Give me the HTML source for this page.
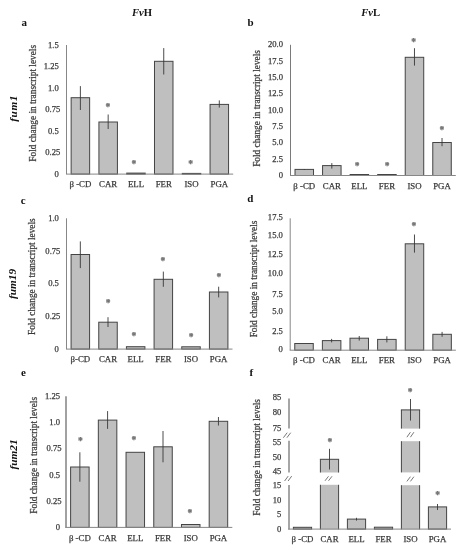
<!DOCTYPE html>
<html><head><meta charset="utf-8"><title>Figure</title>
<style>
html,body{margin:0;padding:0;background:#fff;}
body{width:465px;height:550px;overflow:hidden;}
svg{display:block;font-family:"Liberation Serif", "Times New Roman", serif;filter:blur(0.35px);}
text{stroke-width:0.25px;}
</style></head><body>
<svg width="465" height="550" viewBox="0 0 465 550" shape-rendering="auto">
<rect width="465" height="550" fill="#fff"/>
<text x="58.8" y="176.7" text-anchor="end" font-size="8.6" fill="#3a3a3a" stroke="#3a3a3a">0</text>
<text x="60.3" y="155.18" text-anchor="end" font-size="8.6" fill="#3a3a3a" stroke="#3a3a3a">0.25</text>
<text x="58.8" y="133.67" text-anchor="end" font-size="8.6" fill="#3a3a3a" stroke="#3a3a3a">0.5</text>
<text x="60.3" y="112.15" text-anchor="end" font-size="8.6" fill="#3a3a3a" stroke="#3a3a3a">0.75</text>
<text x="58.8" y="90.63" text-anchor="end" font-size="8.6" fill="#3a3a3a" stroke="#3a3a3a">1.0</text>
<text x="58.8" y="69.12" text-anchor="end" font-size="8.6" fill="#3a3a3a" stroke="#3a3a3a">1.25</text>
<text x="58.8" y="47.6" text-anchor="end" font-size="8.6" fill="#3a3a3a" stroke="#3a3a3a">1.5</text>
<rect x="71.14" y="97.7" width="18.5" height="76.4" fill="#bfbfbf" stroke="#444444" stroke-width="1"/>
<line x1="80.39" y1="86.1" x2="80.39" y2="110" stroke="#383838" stroke-width="0.9"/>
<rect x="98.92" y="122" width="18.5" height="52.1" fill="#bfbfbf" stroke="#444444" stroke-width="1"/>
<line x1="108.17" y1="114.5" x2="108.17" y2="129" stroke="#383838" stroke-width="0.9"/>
<text x="107.95" y="109.75" text-anchor="middle" font-size="9.5" font-weight="bold" fill="#6a6a6a" stroke="#6a6a6a" stroke-width="0.4">*</text>
<rect x="126.71" y="173.1" width="18.5" height="1" fill="#bfbfbf" stroke="#444444" stroke-width="1"/>
<text x="133.95" y="167.25" text-anchor="middle" font-size="9.5" font-weight="bold" fill="#6a6a6a" stroke="#6a6a6a" stroke-width="0.4">*</text>
<rect x="154.49" y="61.3" width="18.5" height="112.8" fill="#bfbfbf" stroke="#444444" stroke-width="1"/>
<line x1="163.74" y1="48.1" x2="163.74" y2="74.5" stroke="#383838" stroke-width="0.9"/>
<rect x="182.27" y="173.4" width="18.5" height="0.7" fill="#bfbfbf" stroke="#444444" stroke-width="1"/>
<text x="190.65" y="167.35" text-anchor="middle" font-size="9.5" font-weight="bold" fill="#6a6a6a" stroke="#6a6a6a" stroke-width="0.4">*</text>
<rect x="210.06" y="104.4" width="18.5" height="69.7" fill="#bfbfbf" stroke="#444444" stroke-width="1"/>
<line x1="219.31" y1="100.4" x2="219.31" y2="107.6" stroke="#383838" stroke-width="0.9"/>
<line x1="66.5" y1="45" x2="66.5" y2="174.1" stroke="#878787" stroke-width="1"/>
<line x1="66" y1="174.1" x2="233.2" y2="174.1" stroke="#878787" stroke-width="1"/>
<text x="80.39" y="187.3" text-anchor="middle" font-size="8.8" fill="#3a3a3a" stroke="#3a3a3a">β -CD</text>
<text x="108.17" y="187.3" text-anchor="middle" font-size="8.8" fill="#3a3a3a" stroke="#3a3a3a">CAR</text>
<text x="135.96" y="187.3" text-anchor="middle" font-size="8.8" fill="#3a3a3a" stroke="#3a3a3a">ELL</text>
<text x="163.74" y="187.3" text-anchor="middle" font-size="8.8" fill="#3a3a3a" stroke="#3a3a3a">FER</text>
<text x="191.52" y="187.3" text-anchor="middle" font-size="8.8" fill="#3a3a3a" stroke="#3a3a3a">ISO</text>
<text x="219.31" y="187.3" text-anchor="middle" font-size="8.8" fill="#3a3a3a" stroke="#3a3a3a">PGA</text>
<text transform="translate(35.6,103.3) rotate(-90)" text-anchor="middle" font-size="9.3" fill="#3a3a3a" stroke="#3a3a3a" stroke-width="0.08">Fold change in transcript levels</text>
<text x="283" y="178.1" text-anchor="end" font-size="8.6" fill="#3a3a3a" stroke="#3a3a3a">0</text>
<text x="283" y="161.76" text-anchor="end" font-size="8.6" fill="#3a3a3a" stroke="#3a3a3a">2.5</text>
<text x="283" y="145.42" text-anchor="end" font-size="8.6" fill="#3a3a3a" stroke="#3a3a3a">5.0</text>
<text x="283" y="129.09" text-anchor="end" font-size="8.6" fill="#3a3a3a" stroke="#3a3a3a">7.5</text>
<text x="283" y="112.75" text-anchor="end" font-size="8.6" fill="#3a3a3a" stroke="#3a3a3a">10.0</text>
<text x="283" y="96.41" text-anchor="end" font-size="8.6" fill="#3a3a3a" stroke="#3a3a3a">12.5</text>
<text x="283" y="80.08" text-anchor="end" font-size="8.6" fill="#3a3a3a" stroke="#3a3a3a">15.0</text>
<text x="283" y="63.74" text-anchor="end" font-size="8.6" fill="#3a3a3a" stroke="#3a3a3a">17.5</text>
<text x="283" y="47.4" text-anchor="end" font-size="8.6" fill="#3a3a3a" stroke="#3a3a3a">20.0</text>
<rect x="295.02" y="169.4" width="18.5" height="6.1" fill="#bfbfbf" stroke="#444444" stroke-width="1"/>
<line x1="304.27" y1="169" x2="304.27" y2="169.8" stroke="#383838" stroke-width="0.9"/>
<rect x="322.57" y="165.6" width="18.5" height="9.9" fill="#bfbfbf" stroke="#444444" stroke-width="1"/>
<line x1="331.82" y1="163.1" x2="331.82" y2="168.6" stroke="#383838" stroke-width="0.9"/>
<rect x="350.12" y="174.5" width="18.5" height="1" fill="#bfbfbf" stroke="#444444" stroke-width="1"/>
<text x="357.05" y="169.25" text-anchor="middle" font-size="9.5" font-weight="bold" fill="#6a6a6a" stroke="#6a6a6a" stroke-width="0.4">*</text>
<rect x="377.68" y="174.5" width="18.5" height="1" fill="#bfbfbf" stroke="#444444" stroke-width="1"/>
<text x="387.05" y="168.65" text-anchor="middle" font-size="9.5" font-weight="bold" fill="#6a6a6a" stroke="#6a6a6a" stroke-width="0.4">*</text>
<rect x="405.23" y="57.3" width="18.5" height="118.2" fill="#bfbfbf" stroke="#444444" stroke-width="1"/>
<line x1="414.48" y1="48.2" x2="414.48" y2="65.6" stroke="#383838" stroke-width="0.9"/>
<text x="413.65" y="45.25" text-anchor="middle" font-size="9.5" font-weight="bold" fill="#6a6a6a" stroke="#6a6a6a" stroke-width="0.4">*</text>
<rect x="432.77" y="142.5" width="18.5" height="33" fill="#bfbfbf" stroke="#444444" stroke-width="1"/>
<line x1="442.02" y1="138" x2="442.02" y2="146.2" stroke="#383838" stroke-width="0.9"/>
<text x="441.95" y="132.55" text-anchor="middle" font-size="9.5" font-weight="bold" fill="#6a6a6a" stroke="#6a6a6a" stroke-width="0.4">*</text>
<line x1="290.5" y1="44.8" x2="290.5" y2="175.5" stroke="#7a7a7a" stroke-width="1"/>
<line x1="290" y1="175.5" x2="455.8" y2="175.5" stroke="#878787" stroke-width="1"/>
<text x="304.27" y="189.15" text-anchor="middle" font-size="8.8" fill="#3a3a3a" stroke="#3a3a3a">β -CD</text>
<text x="331.82" y="189.15" text-anchor="middle" font-size="8.8" fill="#3a3a3a" stroke="#3a3a3a">CAR</text>
<text x="359.38" y="189.15" text-anchor="middle" font-size="8.8" fill="#3a3a3a" stroke="#3a3a3a">ELL</text>
<text x="386.93" y="189.15" text-anchor="middle" font-size="8.8" fill="#3a3a3a" stroke="#3a3a3a">FER</text>
<text x="414.48" y="189.15" text-anchor="middle" font-size="8.8" fill="#3a3a3a" stroke="#3a3a3a">ISO</text>
<text x="442.02" y="189.15" text-anchor="middle" font-size="8.8" fill="#3a3a3a" stroke="#3a3a3a">PGA</text>
<text transform="translate(259.7,108.5) rotate(-90)" text-anchor="middle" font-size="9.3" fill="#3a3a3a" stroke="#3a3a3a" stroke-width="0.08">Fold change in transcript levels</text>
<text x="58.9" y="351.7" text-anchor="end" font-size="8.6" fill="#3a3a3a" stroke="#3a3a3a">0</text>
<text x="60.4" y="319" text-anchor="end" font-size="8.6" fill="#3a3a3a" stroke="#3a3a3a">0.25</text>
<text x="58.9" y="286.3" text-anchor="end" font-size="8.6" fill="#3a3a3a" stroke="#3a3a3a">0.5</text>
<text x="60.4" y="253.6" text-anchor="end" font-size="8.6" fill="#3a3a3a" stroke="#3a3a3a">0.75</text>
<text x="58.9" y="220.9" text-anchor="end" font-size="8.6" fill="#3a3a3a" stroke="#3a3a3a">1.0</text>
<rect x="71.08" y="254.5" width="18.5" height="94.6" fill="#bfbfbf" stroke="#444444" stroke-width="1"/>
<line x1="80.33" y1="241.4" x2="80.33" y2="268.1" stroke="#383838" stroke-width="0.9"/>
<rect x="98.75" y="322.2" width="18.5" height="26.9" fill="#bfbfbf" stroke="#444444" stroke-width="1"/>
<line x1="108" y1="317.2" x2="108" y2="327" stroke="#383838" stroke-width="0.9"/>
<text x="108.15" y="306.45" text-anchor="middle" font-size="9.5" font-weight="bold" fill="#6a6a6a" stroke="#6a6a6a" stroke-width="0.4">*</text>
<rect x="126.42" y="346.7" width="18.5" height="2.4" fill="#bfbfbf" stroke="#444444" stroke-width="1"/>
<text x="133.85" y="338.95" text-anchor="middle" font-size="9.5" font-weight="bold" fill="#6a6a6a" stroke="#6a6a6a" stroke-width="0.4">*</text>
<rect x="154.08" y="279.3" width="18.5" height="69.8" fill="#bfbfbf" stroke="#444444" stroke-width="1"/>
<line x1="163.33" y1="271.6" x2="163.33" y2="286.8" stroke="#383838" stroke-width="0.9"/>
<text x="162.95" y="263.85" text-anchor="middle" font-size="9.5" font-weight="bold" fill="#6a6a6a" stroke="#6a6a6a" stroke-width="0.4">*</text>
<rect x="181.75" y="346.8" width="18.5" height="2.3" fill="#bfbfbf" stroke="#444444" stroke-width="1"/>
<text x="191.15" y="340.15" text-anchor="middle" font-size="9.5" font-weight="bold" fill="#6a6a6a" stroke="#6a6a6a" stroke-width="0.4">*</text>
<rect x="209.42" y="292" width="18.5" height="57.1" fill="#bfbfbf" stroke="#444444" stroke-width="1"/>
<line x1="218.67" y1="286.7" x2="218.67" y2="297.4" stroke="#383838" stroke-width="0.9"/>
<text x="218.85" y="280.35" text-anchor="middle" font-size="9.5" font-weight="bold" fill="#6a6a6a" stroke="#6a6a6a" stroke-width="0.4">*</text>
<line x1="66.5" y1="218.3" x2="66.5" y2="349.1" stroke="#878787" stroke-width="1"/>
<line x1="66" y1="349.1" x2="232.5" y2="349.1" stroke="#878787" stroke-width="1"/>
<text x="80.33" y="361.7" text-anchor="middle" font-size="8.8" fill="#3a3a3a" stroke="#3a3a3a">β-CD</text>
<text x="108" y="361.7" text-anchor="middle" font-size="8.8" fill="#3a3a3a" stroke="#3a3a3a">CAR</text>
<text x="135.67" y="361.7" text-anchor="middle" font-size="8.8" fill="#3a3a3a" stroke="#3a3a3a">ELL</text>
<text x="163.33" y="361.7" text-anchor="middle" font-size="8.8" fill="#3a3a3a" stroke="#3a3a3a">FER</text>
<text x="191" y="361.7" text-anchor="middle" font-size="8.8" fill="#3a3a3a" stroke="#3a3a3a">ISO</text>
<text x="218.67" y="361.7" text-anchor="middle" font-size="8.8" fill="#3a3a3a" stroke="#3a3a3a">PGA</text>
<text transform="translate(34.8,276.7) rotate(-90)" text-anchor="middle" font-size="9.3" fill="#3a3a3a" stroke="#3a3a3a" stroke-width="0.08">Fold change in transcript levels</text>
<text x="282.9" y="352.4" text-anchor="end" font-size="8.6" fill="#3a3a3a" stroke="#3a3a3a">0</text>
<text x="282.9" y="333.6" text-anchor="end" font-size="8.6" fill="#3a3a3a" stroke="#3a3a3a">2.5</text>
<text x="282.9" y="314.2" text-anchor="end" font-size="8.6" fill="#3a3a3a" stroke="#3a3a3a">5.0</text>
<text x="282.9" y="296.6" text-anchor="end" font-size="8.6" fill="#3a3a3a" stroke="#3a3a3a">7.5</text>
<text x="282.9" y="275.8" text-anchor="end" font-size="8.6" fill="#3a3a3a" stroke="#3a3a3a">10.0</text>
<text x="282.9" y="256.7" text-anchor="end" font-size="8.6" fill="#3a3a3a" stroke="#3a3a3a">12.5</text>
<text x="282.9" y="238.3" text-anchor="end" font-size="8.6" fill="#3a3a3a" stroke="#3a3a3a">15.0</text>
<text x="282.9" y="220.1" text-anchor="end" font-size="8.6" fill="#3a3a3a" stroke="#3a3a3a">17.5</text>
<rect x="294.76" y="343.5" width="18.5" height="6.7" fill="#bfbfbf" stroke="#444444" stroke-width="1"/>
<rect x="322.38" y="340.6" width="18.5" height="9.6" fill="#bfbfbf" stroke="#444444" stroke-width="1"/>
<line x1="331.62" y1="338.9" x2="331.62" y2="342.4" stroke="#383838" stroke-width="0.9"/>
<rect x="349.99" y="338.2" width="18.5" height="12" fill="#bfbfbf" stroke="#444444" stroke-width="1"/>
<line x1="359.24" y1="336" x2="359.24" y2="340.6" stroke="#383838" stroke-width="0.9"/>
<rect x="377.61" y="339.4" width="18.5" height="10.8" fill="#bfbfbf" stroke="#444444" stroke-width="1"/>
<line x1="386.86" y1="336.3" x2="386.86" y2="342.4" stroke="#383838" stroke-width="0.9"/>
<rect x="405.22" y="243.8" width="18.5" height="106.4" fill="#bfbfbf" stroke="#444444" stroke-width="1"/>
<line x1="414.47" y1="234.5" x2="414.47" y2="252.6" stroke="#383838" stroke-width="0.9"/>
<text x="413.95" y="228.75" text-anchor="middle" font-size="9.5" font-weight="bold" fill="#6a6a6a" stroke="#6a6a6a" stroke-width="0.4">*</text>
<rect x="432.84" y="334.3" width="18.5" height="15.9" fill="#bfbfbf" stroke="#444444" stroke-width="1"/>
<line x1="442.09" y1="331.9" x2="442.09" y2="336.8" stroke="#383838" stroke-width="0.9"/>
<line x1="290.2" y1="218.3" x2="290.2" y2="350.2" stroke="#878787" stroke-width="1"/>
<line x1="289.7" y1="350.2" x2="455.9" y2="350.2" stroke="#878787" stroke-width="1"/>
<text x="304.01" y="363.2" text-anchor="middle" font-size="8.8" fill="#3a3a3a" stroke="#3a3a3a">β -CD</text>
<text x="331.62" y="363.2" text-anchor="middle" font-size="8.8" fill="#3a3a3a" stroke="#3a3a3a">CAR</text>
<text x="359.24" y="363.2" text-anchor="middle" font-size="8.8" fill="#3a3a3a" stroke="#3a3a3a">ELL</text>
<text x="386.86" y="363.2" text-anchor="middle" font-size="8.8" fill="#3a3a3a" stroke="#3a3a3a">FER</text>
<text x="414.47" y="363.2" text-anchor="middle" font-size="8.8" fill="#3a3a3a" stroke="#3a3a3a">ISO</text>
<text x="442.09" y="363.2" text-anchor="middle" font-size="8.8" fill="#3a3a3a" stroke="#3a3a3a">PGA</text>
<text transform="translate(256.6,279) rotate(-90)" text-anchor="middle" font-size="9.3" fill="#3a3a3a" stroke="#3a3a3a" stroke-width="0.08">Fold change in transcript levels</text>
<text x="60.1" y="530" text-anchor="end" font-size="8.6" fill="#3a3a3a" stroke="#3a3a3a">0</text>
<text x="61.6" y="503.78" text-anchor="end" font-size="8.6" fill="#3a3a3a" stroke="#3a3a3a">0.25</text>
<text x="60.1" y="477.56" text-anchor="end" font-size="8.6" fill="#3a3a3a" stroke="#3a3a3a">0.5</text>
<text x="61.6" y="451.34" text-anchor="end" font-size="8.6" fill="#3a3a3a" stroke="#3a3a3a">0.75</text>
<text x="60.1" y="425.12" text-anchor="end" font-size="8.6" fill="#3a3a3a" stroke="#3a3a3a">1.0</text>
<text x="60.1" y="398.9" text-anchor="end" font-size="8.6" fill="#3a3a3a" stroke="#3a3a3a">1.25</text>
<rect x="70.61" y="467" width="18.5" height="60.4" fill="#bfbfbf" stroke="#444444" stroke-width="1"/>
<line x1="79.86" y1="452.3" x2="79.86" y2="481.7" stroke="#383838" stroke-width="0.9"/>
<text x="80.25" y="443.75" text-anchor="middle" font-size="9.5" font-weight="bold" fill="#6a6a6a" stroke="#6a6a6a" stroke-width="0.4">*</text>
<rect x="98.33" y="420.1" width="18.5" height="107.3" fill="#bfbfbf" stroke="#444444" stroke-width="1"/>
<line x1="107.58" y1="411.1" x2="107.58" y2="428.9" stroke="#383838" stroke-width="0.9"/>
<rect x="126.04" y="452.3" width="18.5" height="75.1" fill="#bfbfbf" stroke="#444444" stroke-width="1"/>
<text x="133.85" y="443.25" text-anchor="middle" font-size="9.5" font-weight="bold" fill="#6a6a6a" stroke="#6a6a6a" stroke-width="0.4">*</text>
<rect x="153.76" y="446.8" width="18.5" height="80.6" fill="#bfbfbf" stroke="#444444" stroke-width="1"/>
<line x1="163.01" y1="431" x2="163.01" y2="462.3" stroke="#383838" stroke-width="0.9"/>
<rect x="181.48" y="524.5" width="18.5" height="2.9" fill="#bfbfbf" stroke="#444444" stroke-width="1"/>
<text x="189.95" y="516.45" text-anchor="middle" font-size="9.5" font-weight="bold" fill="#6a6a6a" stroke="#6a6a6a" stroke-width="0.4">*</text>
<rect x="209.19" y="421.3" width="18.5" height="106.1" fill="#bfbfbf" stroke="#444444" stroke-width="1"/>
<line x1="218.44" y1="417" x2="218.44" y2="425.5" stroke="#383838" stroke-width="0.9"/>
<line x1="66" y1="396.3" x2="66" y2="527.4" stroke="#8a8a8a" stroke-width="1.6"/>
<line x1="65.2" y1="527.4" x2="232.3" y2="527.4" stroke="#878787" stroke-width="1"/>
<text x="79.86" y="541.15" text-anchor="middle" font-size="8.8" fill="#3a3a3a" stroke="#3a3a3a">β -CD</text>
<text x="107.58" y="541.15" text-anchor="middle" font-size="8.8" fill="#3a3a3a" stroke="#3a3a3a">CAR</text>
<text x="135.29" y="541.15" text-anchor="middle" font-size="8.8" fill="#3a3a3a" stroke="#3a3a3a">ELL</text>
<text x="163.01" y="541.15" text-anchor="middle" font-size="8.8" fill="#3a3a3a" stroke="#3a3a3a">FER</text>
<text x="190.73" y="541.15" text-anchor="middle" font-size="8.8" fill="#3a3a3a" stroke="#3a3a3a">ISO</text>
<text x="218.44" y="541.15" text-anchor="middle" font-size="8.8" fill="#3a3a3a" stroke="#3a3a3a">PGA</text>
<text transform="translate(36.9,455.3) rotate(-90)" text-anchor="middle" font-size="9.3" fill="#3a3a3a" stroke="#3a3a3a" stroke-width="0.08">Fold change in transcript levels</text>
<text x="281.3" y="400.4" text-anchor="end" font-size="8.6" fill="#3a3a3a" stroke="#3a3a3a">85</text>
<text x="281.3" y="415.3" text-anchor="end" font-size="8.6" fill="#3a3a3a" stroke="#3a3a3a">80</text>
<text x="281.3" y="430.5" text-anchor="end" font-size="8.6" fill="#3a3a3a" stroke="#3a3a3a">75</text>
<text x="281.3" y="444.8" text-anchor="end" font-size="8.6" fill="#3a3a3a" stroke="#3a3a3a">55</text>
<text x="281.3" y="459.6" text-anchor="end" font-size="8.6" fill="#3a3a3a" stroke="#3a3a3a">50</text>
<text x="281.3" y="474.2" text-anchor="end" font-size="8.6" fill="#3a3a3a" stroke="#3a3a3a">45</text>
<text x="281.3" y="488" text-anchor="end" font-size="8.6" fill="#3a3a3a" stroke="#3a3a3a">15</text>
<text x="281.3" y="502.7" text-anchor="end" font-size="8.6" fill="#3a3a3a" stroke="#3a3a3a">10</text>
<text x="281.3" y="517.4" text-anchor="end" font-size="8.6" fill="#3a3a3a" stroke="#3a3a3a">5</text>
<text x="281.3" y="531.7" text-anchor="end" font-size="8.6" fill="#3a3a3a" stroke="#3a3a3a">0</text>
<rect x="293.4" y="527.3" width="18.2" height="1.8" fill="#bfbfbf" stroke="#444444" stroke-width="1"/>
<rect x="320.4" y="459.3" width="18.2" height="13.2" fill="#bfbfbf"/>
<line x1="320.4" y1="459.3" x2="320.4" y2="472.5" stroke="#444444" stroke-width="1"/>
<line x1="338.6" y1="459.3" x2="338.6" y2="472.5" stroke="#444444" stroke-width="1"/>
<line x1="319.9" y1="459.3" x2="339.1" y2="459.3" stroke="#444444" stroke-width="1"/>
<rect x="320.4" y="484.8" width="18.2" height="44.6" fill="#bfbfbf"/>
<line x1="320.4" y1="484.8" x2="320.4" y2="529.4" stroke="#444444" stroke-width="1"/>
<line x1="338.6" y1="484.8" x2="338.6" y2="529.4" stroke="#444444" stroke-width="1"/>
<line x1="329.5" y1="448.8" x2="329.5" y2="469.5" stroke="#383838" stroke-width="0.9"/>
<text x="329.95" y="444.75" text-anchor="middle" font-size="9.5" font-weight="bold" fill="#6a6a6a" stroke="#6a6a6a" stroke-width="0.4">*</text>
<rect x="347.4" y="519.1" width="18.2" height="10" fill="#bfbfbf" stroke="#444444" stroke-width="1"/>
<line x1="356.5" y1="517.8" x2="356.5" y2="520.6" stroke="#383838" stroke-width="0.9"/>
<rect x="374.4" y="527.2" width="18.2" height="1.9" fill="#bfbfbf" stroke="#444444" stroke-width="1"/>
<rect x="401.4" y="409.9" width="18.2" height="18.7" fill="#bfbfbf"/>
<line x1="401.4" y1="409.9" x2="401.4" y2="428.6" stroke="#444444" stroke-width="1"/>
<line x1="419.6" y1="409.9" x2="419.6" y2="428.6" stroke="#444444" stroke-width="1"/>
<line x1="400.9" y1="409.9" x2="420.1" y2="409.9" stroke="#444444" stroke-width="1"/>
<rect x="401.4" y="441.2" width="18.2" height="31.2" fill="#bfbfbf"/>
<line x1="401.4" y1="441.2" x2="401.4" y2="472.4" stroke="#444444" stroke-width="1"/>
<line x1="419.6" y1="441.2" x2="419.6" y2="472.4" stroke="#444444" stroke-width="1"/>
<rect x="401.4" y="485.2" width="18.2" height="44.2" fill="#bfbfbf"/>
<line x1="401.4" y1="485.2" x2="401.4" y2="529.4" stroke="#444444" stroke-width="1"/>
<line x1="419.6" y1="485.2" x2="419.6" y2="529.4" stroke="#444444" stroke-width="1"/>
<line x1="410.5" y1="399" x2="410.5" y2="420.6" stroke="#383838" stroke-width="0.9"/>
<text x="410.05" y="395.35" text-anchor="middle" font-size="9.5" font-weight="bold" fill="#6a6a6a" stroke="#6a6a6a" stroke-width="0.4">*</text>
<rect x="428.4" y="506.9" width="18.2" height="22.2" fill="#bfbfbf" stroke="#444444" stroke-width="1"/>
<line x1="437.5" y1="504" x2="437.5" y2="510" stroke="#383838" stroke-width="0.9"/>
<text x="437.55" y="498.35" text-anchor="middle" font-size="9.5" font-weight="bold" fill="#6a6a6a" stroke="#6a6a6a" stroke-width="0.4">*</text>
<line x1="289" y1="398.4" x2="289" y2="428.6" stroke="#909090" stroke-width="1.6"/>
<line x1="289" y1="440.8" x2="289" y2="472.4" stroke="#909090" stroke-width="1.6"/>
<line x1="289" y1="485" x2="289" y2="529.4" stroke="#909090" stroke-width="1.6"/>
<line x1="288.2" y1="529.1" x2="451" y2="529.1" stroke="#878787" stroke-width="1"/>
<text x="302.5" y="542.3" text-anchor="middle" font-size="8.8" fill="#3a3a3a" stroke="#3a3a3a">β -CD</text>
<text x="329.5" y="542.3" text-anchor="middle" font-size="8.8" fill="#3a3a3a" stroke="#3a3a3a">CAR</text>
<text x="356.5" y="542.3" text-anchor="middle" font-size="8.8" fill="#3a3a3a" stroke="#3a3a3a">ELL</text>
<text x="383.5" y="542.3" text-anchor="middle" font-size="8.8" fill="#3a3a3a" stroke="#3a3a3a">FER</text>
<text x="410.5" y="542.3" text-anchor="middle" font-size="8.8" fill="#3a3a3a" stroke="#3a3a3a">ISO</text>
<text x="437.5" y="542.3" text-anchor="middle" font-size="8.8" fill="#3a3a3a" stroke="#3a3a3a">PGA</text>
<text transform="translate(259.8,457.4) rotate(-90)" text-anchor="middle" font-size="9.3" fill="#3a3a3a" stroke="#3a3a3a" stroke-width="0.08">Fold change in transcript levels</text>
<line x1="283.4" y1="437.7" x2="287.2" y2="432.7" stroke="#787878" stroke-width="1.0"/>
<line x1="286.9" y1="437.7" x2="290.7" y2="432.7" stroke="#787878" stroke-width="1.0"/>
<line x1="284.6" y1="481" x2="288.2" y2="476.1" stroke="#787878" stroke-width="1.0"/>
<line x1="288.1" y1="481" x2="291.7" y2="476.1" stroke="#787878" stroke-width="1.0"/>
<line x1="325" y1="480.8" x2="328.5" y2="476.3" stroke="#787878" stroke-width="1.0"/>
<line x1="328.5" y1="480.8" x2="332" y2="476.3" stroke="#787878" stroke-width="1.0"/>
<line x1="406.9" y1="437.2" x2="410.4" y2="432.2" stroke="#787878" stroke-width="1.0"/>
<line x1="410.4" y1="437.2" x2="413.9" y2="432.2" stroke="#787878" stroke-width="1.0"/>
<line x1="406.9" y1="481.4" x2="410.4" y2="476.7" stroke="#787878" stroke-width="1.0"/>
<line x1="410.4" y1="481.4" x2="413.9" y2="476.7" stroke="#787878" stroke-width="1.0"/>
<text x="132" y="16.1" font-size="10.6" font-weight="bold" fill="#111"><tspan font-style="italic">Fv</tspan>H</text>
<text x="361.3" y="16.1" font-size="10.6" font-weight="bold" fill="#111"><tspan font-style="italic">Fv</tspan>L</text>
<text x="21.4" y="25.8" font-size="11" font-weight="bold" fill="#111">a</text>
<text x="247.5" y="25.8" font-size="11" font-weight="bold" fill="#111">b</text>
<text x="20.8" y="203.8" font-size="11" font-weight="bold" fill="#111">c</text>
<text x="247.2" y="202.1" font-size="11" font-weight="bold" fill="#111">d</text>
<text x="21.0" y="376" font-size="11" font-weight="bold" fill="#111">e</text>
<text x="249.5" y="376" font-size="11" font-weight="bold" fill="#111">f</text>
<text transform="translate(17.0,108.4) rotate(-90)" text-anchor="middle" letter-spacing="0.6" font-size="11.3" font-weight="bold" font-style="italic" fill="#111">fum1</text>
<text transform="translate(16.2,284.0) rotate(-90)" text-anchor="middle" letter-spacing="0" font-size="11.3" font-weight="bold" font-style="italic" fill="#111">fum19</text>
<text transform="translate(17.0,454.4) rotate(-90)" text-anchor="middle" letter-spacing="0" font-size="11.3" font-weight="bold" font-style="italic" fill="#111">fum21</text>
</svg>
</body></html>
